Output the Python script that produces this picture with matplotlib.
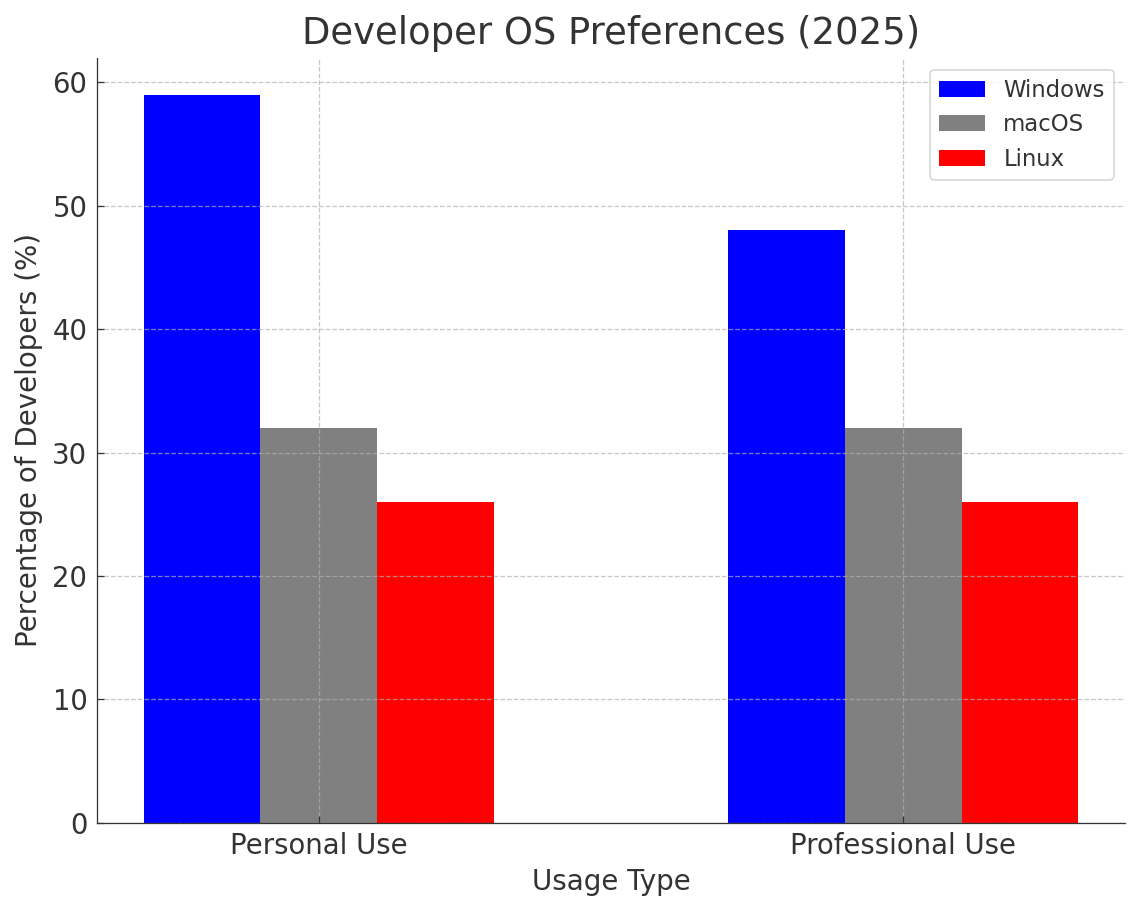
import matplotlib
matplotlib.use('Agg')
import matplotlib.pyplot as plt
import numpy as np

categories = ['Personal Use', 'Professional Use']
os_names = ['Windows', 'macOS', 'Linux']
windows = [59, 48]
macos = [32, 32]
linux = [26, 26]
colors = ['blue', 'gray', 'red']

TEXT = '#333333'
plt.rcParams.update({
    'font.family': 'DejaVu Sans',
    'text.color': TEXT,
    'axes.labelcolor': TEXT,
    'xtick.color': TEXT,
    'ytick.color': TEXT,
    'axes.edgecolor': TEXT,
    'xtick.direction': 'in',
    'ytick.direction': 'in',
})

fig, ax = plt.subplots(figsize=(10, 8), dpi=114)
x = np.arange(len(categories))
width = 0.2
for i, (vals, name) in enumerate(zip([windows, macos, linux], os_names)):
    ax.bar(x + (i - 1) * width, vals, width, label=name, color=colors[i])

ax.set_title('Developer OS Preferences (2025)', fontsize=23.3, pad=9)
ax.set_xlabel('Usage Type', fontsize=17.5, labelpad=5)
ax.set_ylabel('Percentage of Developers (%)', fontsize=17.5, labelpad=6)
ax.set_xticks(x)
ax.set_xticklabels(categories)
ax.tick_params(labelsize=17.4, pad=6, length=4.5)
ax.grid(True, linestyle='--', color='#b0b0b0', alpha=0.7)
ax.spines['top'].set_visible(False)
ax.spines['right'].set_visible(False)
ax.legend(fontsize=14.4)

fig.subplots_adjust(left=0.085, right=0.987, top=0.936, bottom=0.098)
fig.savefig('out.png')
